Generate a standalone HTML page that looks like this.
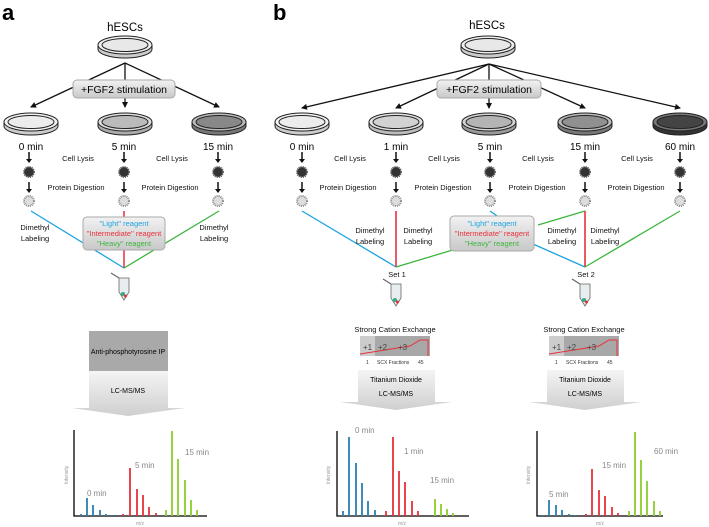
<!DOCTYPE html>
<html><head><meta charset="utf-8"><style>
body{margin:0;background:#fff}
svg{display:block;font-family:"Liberation Sans",sans-serif}
.s{font-size:7.5px;fill:#111}
</style></head><body>
<svg width="709" height="527" viewBox="0 0 709 527" xmlns="http://www.w3.org/2000/svg">
<defs>
<marker id="ah" markerWidth="6" markerHeight="6" refX="5" refY="3" orient="auto" markerUnits="userSpaceOnUse"><path d="M0,0 L6,3 L0,6 z" fill="#111"/></marker>
<linearGradient id="bx" x1="0" y1="0" x2="0" y2="1"><stop offset="0" stop-color="#f2f2f2"/><stop offset="1" stop-color="#c8c8c8"/></linearGradient>
<linearGradient id="ar" x1="0" y1="0" x2="0" y2="1"><stop offset="0" stop-color="#f4f4f4"/><stop offset="1" stop-color="#cfcfcf"/></linearGradient>
<g id="blob"><circle r="5" fill="#333" stroke="#555" stroke-width="2" stroke-dasharray="1 1"/></g>
<g id="blob2"><circle r="5" fill="#ddd" stroke="#888" stroke-width="2" stroke-dasharray="1 1"/></g>
<g id="da"><line x1="0" y1="0" x2="0" y2="8" stroke="#111" stroke-width="1.5"/><path d="M-3,7 L3,7 L0,11z" fill="#111"/></g>
<g id="tube"><path d="M-5,0 h10 v14 l-5,8 l-5,-8z" fill="#e8eef0" stroke="#666" stroke-width="0.8"/><path d="M-5,0 l-8,-5" stroke="#666" stroke-width="1.2"/><circle cx="-1" cy="16" r="2" fill="#3a8"/><circle cx="1.5" cy="18" r="1.5" fill="#e8303a"/></g>
</defs>

<text x="2" y="20" font-size="22" font-weight="bold">a</text>
<text x="273" y="20" font-size="22" font-weight="bold">b</text>

<!-- PANEL A -->
<text x="125" y="31" font-size="11.5" text-anchor="middle">hESCs</text>
<g stroke="#222" stroke-width="1">
<path d="M98,45 v4 a27,9 0 0 0 54,0 v-4" fill="#ccc"/>
<ellipse cx="125" cy="45" rx="27" ry="9" fill="#eee"/><ellipse cx="125" cy="45" rx="23" ry="6.5" fill="#e8e8e8"/>
</g>
<g stroke="#111" stroke-width="1.3" marker-end="url(#ah)">
<line x1="125" y1="63" x2="31" y2="107"/><line x1="125" y1="63" x2="125" y2="107"/><line x1="125" y1="63" x2="219" y2="107"/>
</g>
<rect x="73" y="80" width="102" height="18" rx="4" fill="url(#bx)" stroke="#aaa"/>
<text x="124" y="93" font-size="10.5" text-anchor="middle">+FGF2 stimulation</text>
<g stroke="#222" stroke-width="1">
<path d="M4,122 v4 a27,9 0 0 0 54,0 v-4" fill="#ccc"/><ellipse cx="31" cy="122" rx="27" ry="9" fill="#f2f2f2"/><ellipse cx="31" cy="122" rx="23" ry="6.5" fill="#ececec"/>
<path d="M98,122 v4 a27,9 0 0 0 54,0 v-4" fill="#aaa"/><ellipse cx="125" cy="122" rx="27" ry="9" fill="#ddd"/><ellipse cx="125" cy="122" rx="23" ry="6.5" fill="#bbb"/>
<path d="M192,122 v4 a27,9 0 0 0 54,0 v-4" fill="#777"/><ellipse cx="219" cy="122" rx="27" ry="9" fill="#bbb"/><ellipse cx="219" cy="122" rx="23" ry="6.5" fill="#888"/>
</g>
<g font-size="10" text-anchor="middle"><text x="31" y="150">0 min</text><text x="124" y="150">5 min</text><text x="218" y="150">15 min</text></g>
<g class="s" text-anchor="middle"><text x="78" y="161">Cell Lysis</text><text x="172" y="161">Cell Lysis</text><text x="76" y="190">Protein Digestion</text><text x="170" y="190">Protein Digestion</text></g>
<use href="#da" x="29" y="152"/><use href="#da" x="124" y="152"/><use href="#da" x="218" y="152"/>
<use href="#blob" x="29" y="172"/><use href="#blob" x="124" y="172"/><use href="#blob" x="218" y="172"/>
<use href="#da" x="29" y="182"/><use href="#da" x="124" y="182"/><use href="#da" x="218" y="182"/>
<use href="#blob2" x="29" y="201"/><use href="#blob2" x="124" y="201"/><use href="#blob2" x="218" y="201"/>
<line x1="31" y1="211" x2="124" y2="268" stroke="#1ba3e0" stroke-width="1.3"/>
<line x1="124" y1="211" x2="124" y2="268" stroke="#e8303a" stroke-width="1.5"/>
<line x1="219" y1="211" x2="124" y2="268" stroke="#3db53d" stroke-width="1.3"/>
<g class="s" text-anchor="middle"><text x="35" y="230">Dimethyl</text><text x="35" y="241">Labeling</text><text x="214" y="230">Dimethyl</text><text x="214" y="241">Labeling</text></g>
<rect x="83" y="217" width="82" height="33" rx="4" fill="url(#bx)" stroke="#aaa"/>
<g font-size="7.5" text-anchor="middle"><text x="124" y="226" fill="#1ba3e0">"Light" reagent</text><text x="124" y="236" fill="#e8303a">"Intermediate" reagent</text><text x="124" y="246" fill="#3db53d">"Heavy" reagent</text></g>
<use href="#tube" x="124" y="278"/>
<rect x="89" y="331" width="79" height="40" fill="#a9a9a9"/>
<text x="128" y="354" font-size="7" text-anchor="middle">Anti-phosphotyrosine IP</text>
<path d="M89,371 h79 v37 l17,0 l-57,8 l-56,-8 l17,0z" fill="url(#ar)"/>
<text x="128" y="393" font-size="7" text-anchor="middle">LC-MS/MS</text>

<!-- PANEL B -->
<text x="487" y="29" font-size="11.5" text-anchor="middle">hESCs</text>
<g stroke="#222" stroke-width="1">
<path d="M461,45 v4 a27,9 0 0 0 54,0 v-4" fill="#ccc"/><ellipse cx="488" cy="45" rx="27" ry="9" fill="#eee"/><ellipse cx="488" cy="45" rx="23" ry="6.5" fill="#e8e8e8"/>
</g>
<g stroke="#111" stroke-width="1.3" marker-end="url(#ah)">
<line x1="489" y1="64" x2="302" y2="108"/><line x1="489" y1="64" x2="396" y2="108"/><line x1="489" y1="64" x2="489" y2="108"/><line x1="489" y1="64" x2="585" y2="108"/><line x1="489" y1="64" x2="680" y2="108"/>
</g>
<rect x="437" y="80" width="104" height="18" rx="4" fill="url(#bx)" stroke="#aaa"/>
<text x="489" y="93" font-size="10.5" text-anchor="middle">+FGF2 stimulation</text>
<g stroke="#222" stroke-width="1">
<path d="M275,122 v4 a27,9 0 0 0 54,0 v-4" fill="#ccc"/><ellipse cx="302" cy="122" rx="27" ry="9" fill="#f2f2f2"/><ellipse cx="302" cy="122" rx="23" ry="6.5" fill="#ececec"/>
<path d="M369,122 v4 a27,9 0 0 0 54,0 v-4" fill="#bbb"/><ellipse cx="396" cy="122" rx="27" ry="9" fill="#e4e4e4"/><ellipse cx="396" cy="122" rx="23" ry="6.5" fill="#d2d2d2"/>
<path d="M462,122 v4 a27,9 0 0 0 54,0 v-4" fill="#999"/><ellipse cx="489" cy="122" rx="27" ry="9" fill="#d4d4d4"/><ellipse cx="489" cy="122" rx="23" ry="6.5" fill="#b4b4b4"/>
<path d="M558,122 v4 a27,9 0 0 0 54,0 v-4" fill="#777"/><ellipse cx="585" cy="122" rx="27" ry="9" fill="#bbb"/><ellipse cx="585" cy="122" rx="23" ry="6.5" fill="#909090"/>
<path d="M653,122 v4 a27,9 0 0 0 54,0 v-4" fill="#333"/><ellipse cx="680" cy="122" rx="27" ry="9" fill="#777"/><ellipse cx="680" cy="122" rx="23" ry="6.5" fill="#444"/>
</g>
<g font-size="10" text-anchor="middle"><text x="302" y="150">0 min</text><text x="396" y="150">1 min</text><text x="490" y="150">5 min</text><text x="585" y="150">15 min</text><text x="680" y="150">60 min</text></g>
<g class="s" text-anchor="middle">
<text x="350" y="161">Cell Lysis</text><text x="444" y="161">Cell Lysis</text><text x="538" y="161">Cell Lysis</text><text x="637" y="161">Cell Lysis</text>
<text x="348" y="190">Protein Digestion</text><text x="443" y="190">Protein Digestion</text><text x="537" y="190">Protein Digestion</text><text x="636" y="190">Protein Digestion</text>
</g>
<use href="#da" x="302" y="152"/><use href="#da" x="396" y="152"/><use href="#da" x="490" y="152"/><use href="#da" x="585" y="152"/><use href="#da" x="680" y="152"/>
<use href="#blob" x="302" y="172"/><use href="#blob" x="396" y="172"/><use href="#blob" x="490" y="172"/><use href="#blob" x="585" y="172"/><use href="#blob" x="680" y="172"/>
<use href="#da" x="302" y="182"/><use href="#da" x="396" y="182"/><use href="#da" x="490" y="182"/><use href="#da" x="585" y="182"/><use href="#da" x="680" y="182"/>
<use href="#blob2" x="302" y="201"/><use href="#blob2" x="396" y="201"/><use href="#blob2" x="490" y="201"/><use href="#blob2" x="585" y="201"/><use href="#blob2" x="680" y="201"/>
<g stroke-width="1.3">
<line x1="302" y1="211" x2="396" y2="267" stroke="#1ba3e0"/>
<line x1="396" y1="211" x2="396" y2="267" stroke="#e8303a" stroke-width="1.6"/>
<line x1="456" y1="249" x2="396" y2="267" stroke="#3db53d"/>
<line x1="490" y1="211" x2="500" y2="218" stroke="#1ba3e0"/>
<line x1="533" y1="244" x2="585" y2="267" stroke="#1ba3e0"/>
<line x1="585" y1="211" x2="538" y2="225" stroke="#3db53d"/>
<line x1="585" y1="211" x2="585" y2="267" stroke="#e8303a" stroke-width="1.6"/>
<line x1="680" y1="211" x2="585" y2="267" stroke="#3db53d"/>
</g>
<g class="s" text-anchor="middle">
<text x="370" y="233">Dimethyl</text><text x="370" y="244">Labeling</text><text x="418" y="233">Dimethyl</text><text x="418" y="244">Labeling</text>
<text x="562" y="233">Dimethyl</text><text x="562" y="244">Labeling</text><text x="605" y="233">Dimethyl</text><text x="605" y="244">Labeling</text>
</g>
<rect x="450" y="216" width="84" height="35" rx="4" fill="url(#bx)" stroke="#aaa"/>
<g font-size="7.5" text-anchor="middle"><text x="492" y="226" fill="#1ba3e0">"Light" reagent</text><text x="492" y="236" fill="#e8303a">"Intermediate" reagent</text><text x="492" y="246" fill="#3db53d">"Heavy" reagent</text></g>
<text x="397" y="277" class="s" text-anchor="middle">Set 1</text><text x="586" y="277" class="s" text-anchor="middle">Set 2</text>
<use href="#tube" x="396" y="284"/>
<use href="#tube" x="585" y="284"/>
<g id="scx1">
<text x="395" y="332" class="s" text-anchor="middle">Strong Cation Exchange</text>
<rect x="360" y="336" width="70" height="20" fill="#a8a8a8"/><rect x="360" y="336" width="15" height="20" fill="#ccc"/>
<path d="M360,354 L410,346 L420,340 L428,340 L428,356" fill="none" stroke="#e8303a" stroke-width="1"/>
<text x="363" y="350" font-size="8" fill="#444">+1</text><text x="378" y="350" font-size="8" fill="#444">+2</text><text x="398" y="350" font-size="8" fill="#444">+3</text>
<g font-size="5" fill="#333"><text x="366" y="364">1</text><text x="377" y="364">SCX Fractions</text><text x="418" y="364">45</text></g>
<path d="M358,370 h77 v32 l17,0 l-56,8 l-56,-8 l18,0z" fill="url(#ar)"/>
<text x="396" y="382" font-size="7" text-anchor="middle">Titanium Dioxide</text>
<text x="396" y="396" font-size="7" text-anchor="middle">LC-MS/MS</text>
</g>
<use href="#scx1" x="189" y="0"/>

<!-- SPECTRA -->
<g stroke-width="1.8" fill="none">
<path d="M74,430 V516 H207" stroke="#000" stroke-width="1.3"/>
<g stroke="#2a7fb0"><path d="M81,516V514M87,516V498M93,516V505M100,516V510M106,516V514M112,516V515"/></g>
<g stroke="#e8303a"><path d="M123,516V514M130,516V468M137,516V489M143,516V495M149,516V507M156,516V513"/></g>
<g stroke="#8ccc2a"><path d="M166,516V510M172,516V431M178,516V459M185,516V480M191,516V500M197,516V510"/></g>
<path d="M337,431 V516 H469" stroke="#000" stroke-width="1.3"/>
<g stroke="#2a7fb0"><path d="M343,516V511M349,516V437M356,516V463M362,516V483M368,516V501M375,516V510"/></g>
<g stroke="#e8303a"><path d="M386,516V511M393,516V437M399,516V471M405,516V482M412,516V501M418,516V511"/></g>
<g stroke="#8ccc2a"><path d="M435,516V499M441,516V504M447,516V509M453,516V513"/></g>
<path d="M537,431 V516 H663" stroke="#000" stroke-width="1.3"/>
<g stroke="#2a7fb0"><path d="M543,516V515M549,516V500M556,516V505M562,516V510M569,516V514M575,516V515"/></g>
<g stroke="#e8303a"><path d="M586,516V514M592,516V469M599,516V490M605,516V496M612,516V507M618,516V513"/></g>
<g stroke="#8ccc2a"><path d="M629,516V511M635,516V432M641,516V460M647,516V481M654,516V501M660,516V511"/></g>
</g>
<g font-size="8" fill="#888">
<text x="87" y="496">0 min</text><text x="135" y="468">5 min</text><text x="185" y="455">15 min</text>
<text x="355" y="433">0 min</text><text x="404" y="454">1 min</text><text x="430" y="483">15 min</text>
<text x="549" y="497">5 min</text><text x="602" y="468">15 min</text><text x="654" y="454">60 min</text>
</g>
<g font-size="5" fill="#999" text-anchor="middle">
<text x="140" y="525">m/z</text><text x="402" y="525">m/z</text><text x="600" y="525">m/z</text>
<text transform="translate(68,475) rotate(-90)">Intensity</text>
<text transform="translate(330,475) rotate(-90)">Intensity</text>
<text transform="translate(530,475) rotate(-90)">Intensity</text>
</g>
</svg>
</body></html>
